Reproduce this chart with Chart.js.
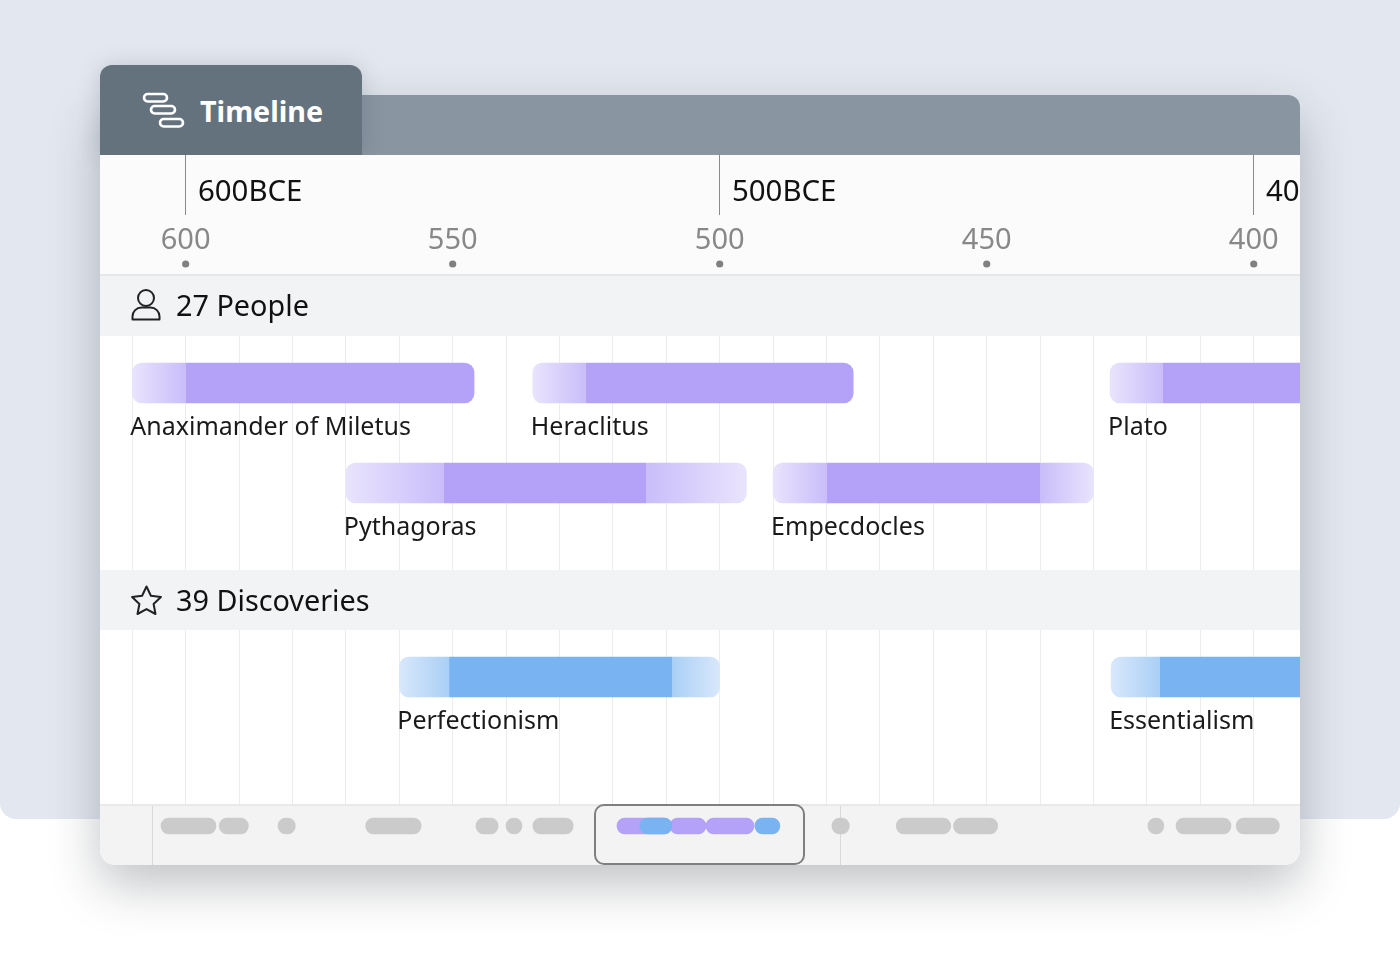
<!DOCTYPE html>
<html><head><meta charset="utf-8">
<script src="https://cdn.jsdelivr.net/npm/chart.js@4"></script>
<style>
html,body{margin:0;padding:0;background:#fff;width:1400px;height:955px;overflow:hidden;font-family:"Noto Sans",sans-serif}
.abs{position:absolute}
#panel{left:0;top:0;width:1400px;height:819px;background:#e3e8f0;border-radius:0 0 16px 16px}
#card{left:100px;top:95px;width:1200px;height:770px;border-radius:15px;background:#fff;box-shadow:0 20px 50px rgba(30,35,45,.28)}
#strip{left:100px;top:95px;width:1200px;height:60px;background:#8995a1;border-radius:0 12px 0 0}
#tab{left:100px;top:65px;width:262px;height:90px;background:#64727e;border-radius:12px 12px 0 0;box-shadow:0 0 22px rgba(40,50,70,.18)}
#tabText{left:200px;top:91px;color:#fff;font-weight:700;font-size:28.7px;line-height:40px;white-space:nowrap}
#head{left:100px;top:155px;width:1200px;height:120px;background:#fbfbfb}
#main{left:100px;top:155px}
#mini{left:100px;top:805px;background:#f3f3f3;border-radius:0 0 15px 15px}
.band{left:100px;width:1200px;height:60px;background:#f2f3f5}
.bandText{left:176px;font-size:28.8px;line-height:40px;color:#111;white-space:nowrap}
#rule{left:100px;top:274px;width:1200px;height:2px;background:#e7e7e7}
#rule2{left:100px;top:804px;width:1200px;height:2px;background:#e9e9e9}
#view{left:594px;top:804px;width:207px;height:57px;border:2px solid #7f7f7f;border-radius:10px}
svg{position:absolute;overflow:visible}
</style></head><body>
<div id="panel" class="abs"></div>
<div id="card" class="abs"></div>
<div id="strip" class="abs"></div>
<div id="tab" class="abs"></div>
<svg style="left:0;top:0" width="1400" height="200" fill="none" stroke="#fff" stroke-width="2.6">
<rect x="144" y="94" width="23" height="7.5" rx="3.7"/><rect x="151" y="106" width="24" height="7.5" rx="3.7"/><rect x="160" y="119" width="23" height="7.5" rx="3.7"/></svg>
<div id="tabText" class="abs">Timeline</div>
<div id="head" class="abs"></div>
<canvas id="main" class="abs" width="1200" height="650"></canvas>
<div id="rule" class="abs"></div>
<div class="band abs" style="top:276px"></div>
<div class="band abs" style="top:570px"></div>
<svg style="left:0;top:0" width="1400" height="700" fill="none" stroke="#222" stroke-width="2" stroke-linejoin="round">
<circle cx="146" cy="298" r="8"/><path d="M132.5 319.5 v-3 a9 9 0 0 1 9-9 h9 a9 9 0 0 1 9 9 v3 z"/>
<path d="M146.5 586.5 l4.4 9.2 10 1.3 -7.3 7 1.9 10 -9-4.9 -9 4.9 1.9-10 -7.3-7 10-1.3 z"/></svg>
<div class="bandText abs" style="top:285px">27 People</div>
<div class="bandText abs" style="top:580px">39 Discoveries</div>
<canvas id="mini" class="abs" width="1200" height="60"></canvas>
<div id="rule2" class="abs"></div>
<div id="view" class="abs"></div>
<script>
// Main timeline: years BCE
const axisMaxYear = 616.04, axisMinYear = 391.34;
const eraYears = [600, 500, 400];
const eraLabels = ['600BCE', '500BCE', '400BCE'];

const personNames = ['Anaximander of Miletus', 'Heraclitus', 'Plato', 'Pythagoras', 'Empecdocles'];
const personStart = [610, 535, 426.9, 570, 490];
const personSolidFrom = [600, 525, 417, 551.6, 480];
const personSolidTo = [546, 475, 347, 513.8, 440];
const personEnd = [546, 475, 347, 495, 430];
const personRow = [1.08, 1.08, 1.08, 2.08, 2.08];

const discoveryNames = ['Perfectionism', 'Essentialism'];
const discoveryStart = [560, 426.7];
const discoverySolidFrom = [550.6, 417.5];
const discoverySolidTo = [509, 350];
const discoveryEnd = [500, 350];
const discoveryRow = [4.02, 4.02];

// Overview strip: [from, to] years BCE
const overviewGrey = [[1077,1018.5],[1015,984],[952.4,934],[859,800],[741.6,718],[709.6,692.6],[681,638],[362.5,344],[294,236],[233,186],[26,9],[-4,-62.5],[-68,-114]];
const overviewPeople = [[591.4,533],[535,496.6],[496.6,445.5]];
const overviewDiscoveries = [[567,533],[444.5,418]];
const overviewMarks = [1085.6, 353.4];

const PURPLE = {solid:'#b3a2f8', dark:'#c9bdfa', light:'#e9e4fd'};
const BLUE = {solid:'#79b3f1', dark:'#a9cff6', light:'#d8e8fb'};
const UI = '"Noto Sans"';

function gradientFor(chart, start, solidFrom, solidTo, end, pal){
  const s = chart.scales.x; if(!s) return pal.solid;
  const a = s.getPixelForValue(start), b = s.getPixelForValue(end);
  if(!(b > a)) return pal.solid;
  const f = (s.getPixelForValue(solidFrom)-a)/(b-a), g = (s.getPixelForValue(solidTo)-a)/(b-a);
  const gr = chart.ctx.createLinearGradient(a,0,b,0);
  gr.addColorStop(0,pal.light);
  gr.addColorStop(f,pal.dark);
  gr.addColorStop(Math.min(1,f+0.0001),pal.solid);
  gr.addColorStop(g,pal.solid);
  if(g<1){gr.addColorStop(Math.min(1,g+0.0001),pal.dark);gr.addColorStop(1,pal.light);}
  return gr;
}
function barSet(label,starts,sf,st,ends,rows,pal){
  return {label,
    data: starts.map((v,i)=>({x:[v,ends[i]],y:rows[i]})),
    backgroundColor: c => c.type==='data' ? gradientFor(c.chart,starts[c.dataIndex],sf[c.dataIndex],st[c.dataIndex],ends[c.dataIndex],pal) : pal.solid,
    borderRadius:10,borderSkipped:false,barThickness:40,grouped:false};
}
const decor = {id:'decor',
  afterDraw(chart){
    const {ctx,scales:{x,y}} = chart;
    ctx.save();
    // era markers
    ctx.textBaseline='middle';ctx.textAlign='left';ctx.fillStyle='#111';ctx.font='29.4px '+UI;
    eraYears.forEach((yr,i)=>{
      const px=Math.floor(x.getPixelForValue(yr))+.5;
      ctx.strokeStyle='#8a8a8a';ctx.lineWidth=1;ctx.beginPath();ctx.moveTo(px,0);ctx.lineTo(px,60);ctx.stroke();
      ctx.fillText(eraLabels[i],px+12.5,37.5);
    });
    // axis dots
    ctx.fillStyle='#808080';
    x.ticks.forEach(t=>{ if(Math.round(t.value)%50===0){ctx.beginPath();ctx.arc(x.getPixelForValue(t.value),109,3.6,0,7);ctx.fill();}});
    // bar captions
    ctx.fillStyle='#1a1a1a';ctx.font='25px '+UI;ctx.textBaseline='middle';
    const cap=(names,starts,rows)=>names.forEach((n,i)=>ctx.fillText(n,x.getPixelForValue(starts[i])-2,y.getPixelForValue(rows[i])+45));
    cap(personNames,personStart,personRow);
    cap(discoveryNames,discoveryStart,discoveryRow);
    ctx.restore();
  }};
new Chart(document.getElementById('main'),{
  type:'bar',
  data:{datasets:[
    barSet('People',personStart,personSolidFrom,personSolidTo,personEnd,personRow,PURPLE),
    barSet('Discoveries',discoveryStart,discoverySolidFrom,discoverySolidTo,discoveryEnd,discoveryRow,BLUE)
  ]},
  plugins:[decor],
  options:{indexAxis:'y',responsive:false,animation:false,devicePixelRatio:1,
    layout:{padding:0},
    plugins:{legend:{display:false},tooltip:{enabled:false}},
    scales:{
      x:{type:'linear',position:'top',reverse:true,min:axisMinYear,max:axisMaxYear,
        afterFit(s){s.height=120;},
        border:{display:false},
        grid:{color:'#ececec',lineWidth:1,drawTicks:false,tickLength:0},
        ticks:{stepSize:10,includeBounds:false,autoSkip:false,maxRotation:0,padding:17,color:'#888',
          font:{family:'Noto Sans',size:29},
          callback:v=>Math.round(v)%50===0?String(Math.round(v)):''}},
      y:{type:'linear',display:false,offset:false,grid:{offset:false},reverse:true,min:0,max:5.3}
    }}
});
new Chart(document.getElementById('mini'),{
  type:'bar',
  data:{datasets:[
    {label:'All',order:3,data:overviewGrey.map(r=>({x:r,y:.65})),backgroundColor:'#cbcbcb'},
    {label:'People',order:2,data:overviewPeople.map(r=>({x:r,y:.65})),backgroundColor:PURPLE.solid},
    {label:'Discoveries',order:1,data:overviewDiscoveries.map(r=>({x:r,y:.65})),backgroundColor:BLUE.solid}
  ].map(d=>Object.assign(d,{borderRadius:8,borderSkipped:false,barThickness:16,grouped:false}))},
  options:{indexAxis:'y',responsive:false,animation:false,devicePixelRatio:1,layout:{padding:0},
    plugins:{legend:{display:false},tooltip:{enabled:false}},
    scales:{
      x:{type:'linear',position:'bottom',reverse:true,min:-136,max:1142,
        afterFit(s){s.height=0;},
        afterBuildTicks(s){s.ticks=overviewMarks.map(v=>({value:v}));},
        border:{display:false},grid:{color:'#d9d9d9',drawTicks:false,tickLength:0},
        ticks:{display:false}},
      y:{type:'linear',display:false,offset:false,grid:{offset:false},min:0,max:1}
    }}
});
</script>
</body></html>
